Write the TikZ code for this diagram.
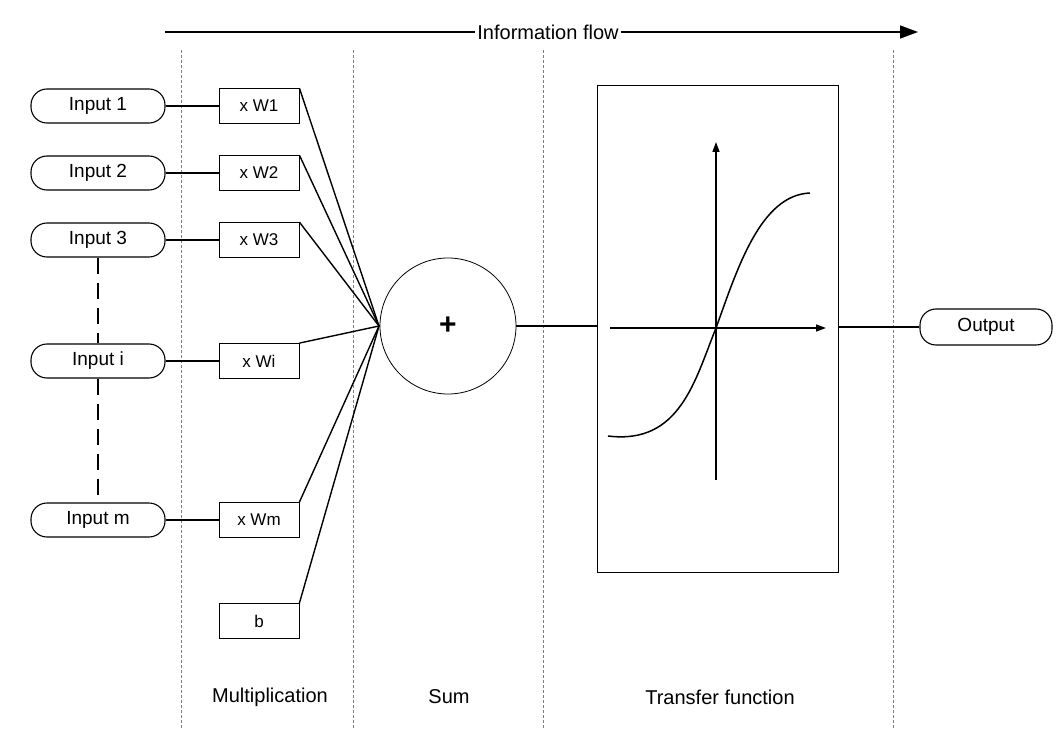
\documentclass[tikz,border=0pt]{standalone}
\usepackage{fontspec}
\setmainfont{Liberation Sans}
\usetikzlibrary{arrows.meta}
\begin{document}
\begin{tikzpicture}[x=1pt,y=-1pt,line width=1.1pt,
  inp/.style={draw,rounded corners=16pt,minimum width=134pt,minimum height=34pt,font=\fontsize{19}{21}\selectfont},
  wbox/.style={draw,line width=0.8pt,minimum width=80pt,minimum height=35pt,font=\fontsize{17}{19}\selectfont},
  lbl/.style={font=\fontsize{20}{22}\selectfont},
  sep/.style={densely dashed,gray,line width=0.7pt}]
\useasboundingbox (0,0) rectangle (1060,730);
\fill[white] (0,0) rectangle (1060,730);
\foreach \x in {181,353,543,893} \draw[sep] (\x,50) -- (\x,730);
\coordinate (fa) at (165,32); \coordinate (fb) at (918,32);
\draw[line width=1.6pt,-{Triangle[length=18pt,width=13pt]}] (fa) -- (fb);
\node[lbl,fill=white,inner sep=2pt] (flow) at (548,32) {Information flow};
\foreach \n/\t/\y in {i1/Input 1/106,i2/Input 2/173,i3/Input 3/240,ii/Input i/361,im/Input m/520}
  \node[inp] (\n) at (98,\y) {\t};
\foreach \n/\t/\y in {w1/x W1/106,w2/x W2/173,w3/x W3/240,wi/x Wi/361,wm/x Wm/520,b/b/621}
  \node[wbox] (\n) at (259,\y) {\t};
\draw[line width=1.6pt,dash pattern=on 16pt off 9pt] (i3) -- (ii);
\draw[line width=1.6pt,dash pattern=on 16pt off 9pt] (ii) -- (im);
\foreach \a/\b in {i1/w1,i2/w2,i3/w3,ii/wi,im/wm} \draw (\a) -- (\b);
\coordinate (c) at (379,326);
\foreach \w in {w1,w2,w3,wi,wm,b} \draw[line width=1.4pt] (\w.north east) -- (c);
\node[draw,line width=0.8pt,circle,minimum size=136pt,inner sep=0pt] (sum) at (448,326) {\fontsize{30}{32}\selectfont\bfseries +};
\node[draw,line width=0.8pt,minimum width=241pt,minimum height=487pt,inner sep=0pt] (tf) at (717.5,328.5) {};
\node[inp,minimum width=132pt,minimum height=36pt] (out) at (986,327) {Output};
\draw (sum.east) -- (tf.west |- sum.east);
\draw (tf.east |- out.west) -- (out.west);
\coordinate (h1) at (610,328); \coordinate (h2) at (826,328);
\coordinate (v1) at (716,480); \coordinate (v2) at (716,142);
\draw[line width=1.5pt,-{Triangle[length=10pt,width=7pt]}] (h1) -- (h2);
\draw[line width=1.5pt,-{Triangle[length=10pt,width=7pt]}] (v1) -- (v2);
\draw[line width=1.5pt] (608,436) .. controls (680,445) and (695,380) .. (716,328) .. controls (737,270) and (760,195) .. (810,193);
\node[lbl] (m) at (270,697) {Multiplication};
\node[lbl] (s) at (449,697) {Sum};
\node[lbl] (t) at (720,697) {Transfer function};
\end{tikzpicture}
\end{document}
